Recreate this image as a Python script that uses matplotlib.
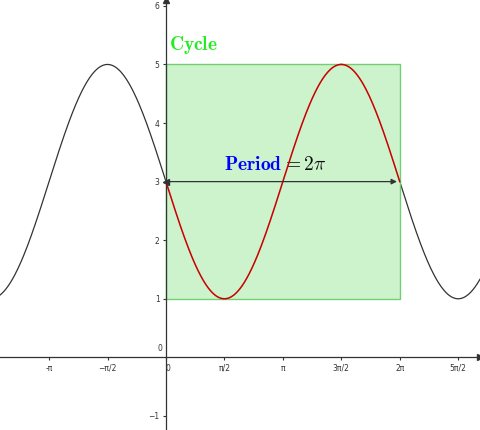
import numpy as np
import matplotlib.pyplot as plt

plt.rcParams['mathtext.fontset'] = 'cm'

# curve parameters: y = midline - amplitude * sin(x)
midline = 3
amplitude = 2
period = 2 * np.pi
cycle_start = 0

x_ticks = [-np.pi, -np.pi / 2, 0, np.pi / 2, np.pi, 3 * np.pi / 2, 2 * np.pi, 5 * np.pi / 2]
x_labels = ['-π', '−π/2', '0', 'π/2', 'π', '3π/2', '2π', '5π/2']
y_ticks = [-1, 1, 2, 3, 4, 5, 6]

fig = plt.figure(figsize=(4.8, 4.3), dpi=100)
ax = fig.add_axes([0, 0, 1, 1])
ax.set_xlim(-4.46, 8.44)
ax.set_ylim(-1.24, 6.1)

x = np.linspace(-4.46, 8.44, 800)
ax.plot(x, midline - amplitude * np.sin(x), color='#333333', lw=0.9)
xc = np.linspace(cycle_start, cycle_start + period, 400)
ax.plot(xc, midline - amplitude * np.sin(xc), color='#cc0000', lw=1.1, zorder=4)

ax.fill_between([cycle_start, cycle_start + period], midline - amplitude, midline + amplitude,
                facecolor='#c8f2c8', edgecolor='#66cc66', lw=1, alpha=0.9, zorder=2)

ax.annotate('', xy=(cycle_start + period, midline), xytext=(cycle_start, midline),
            arrowprops=dict(arrowstyle='-|>', color='#333333', lw=0.9, mutation_scale=8), zorder=5)
ax.plot([cycle_start], [midline], marker='<', color='#333333', ms=4, zorder=5)

ax.text(0.08, 5.25, r'$\mathbf{Cycle}$', color='#22ee22', fontsize=14)
ax.text(1.55, 3.2, r'$\mathbf{Period}$', color='#0000ff', fontsize=14)
ax.text(3.13, 3.2, r'$\mathbf{= 2\pi}$', color='#111111', fontsize=14)

for s in ['top', 'right']:
    ax.spines[s].set_visible(False)
ax.spines['left'].set_position(('data', 0))
ax.spines['bottom'].set_position(('data', 0))
for s in ['left', 'bottom']:
    ax.spines[s].set_color('#333333')
    ax.spines[s].set_linewidth(0.9)
ax.plot(1, 0, '>', transform=ax.get_yaxis_transform(), color='#333333', ms=4, clip_on=False)
ax.plot(0, 1, '^', transform=ax.get_xaxis_transform(), color='#333333', ms=4, clip_on=False)

ax.set_xticks(x_ticks)
ax.set_xticklabels(x_labels)
ax.set_yticks(y_ticks)
ax.tick_params(labelsize=5.5, length=2.5, width=0.8, colors='#333333', pad=2)
for lbl in ax.get_xticklabels():
    lbl.set_horizontalalignment('left' if lbl.get_text() == '0' else 'center')
ax.text(-0.1, 0.07, '0', fontsize=5.5, color='#333333', ha='right', va='bottom')

fig.savefig('out.png', dpi=100)
